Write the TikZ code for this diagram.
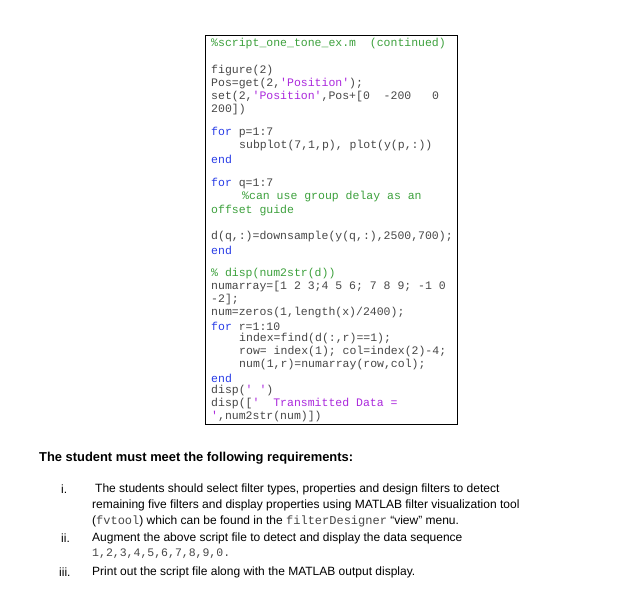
\documentclass[tikz,border=0pt]{standalone}
\usepackage{fontspec}
\setmainfont{Liberation Sans}
\newfontfamily\cm{Liberation Mono}
\definecolor{cgray}{RGB}{70,70,70}
\definecolor{kw}{RGB}{40,60,230}
\definecolor{st}{RGB}{170,40,220}
\definecolor{cmt}{RGB}{60,160,60}
\begin{document}
\begin{tikzpicture}[x=1pt,y=-1pt,
  code/.style={anchor=west,inner sep=0pt,font=\cm\fontsize{11.5}{13}\selectfont,text=cgray},
  body/.style={anchor=west,inner sep=0pt,font=\fontsize{12}{15}\selectfont,text=black}]
\useasboundingbox (0,0) rectangle (638,614);
\draw[line width=1pt] (205,35) rectangle (457,424);
\newcommand\cl[3]{\node[code] at (#1,#2) {#3};}
\cl{211}{44}{\textcolor{cmt}{\%script\_one\_tone\_ex.m~~(continued)}}
\cl{211}{71}{figure(2)}
\cl{211}{84}{Pos=get(2,\textcolor{st}{'Position'});}
\cl{211}{97}{set(2,\textcolor{st}{'Position'},Pos+[0~~-200~~~0}
\cl{211}{110}{200])}
\cl{211}{133}{\textcolor{kw}{for} p=1:7}
\cl{239}{146}{subplot(7,1,p), plot(y(p,:))}
\cl{211}{159}{\textcolor{kw}{end}}
\cl{211}{184}{\textcolor{kw}{for} q=1:7}
\cl{242}{197}{\textcolor{cmt}{\%can use group delay as an}}
\cl{211}{211}{\textcolor{cmt}{offset guide}}
\cl{211}{237}{d(q,:)=downsample(y(q,:),2500,700);}
\cl{211}{250}{\textcolor{kw}{end}}
\cl{211}{274}{\textcolor{cmt}{\% disp(num2str(d))}}
\cl{211}{287}{numarray=[1 2 3;4 5 6; 7 8 9; -1 0}
\cl{211}{300}{-2];}
\cl{211}{313}{num=zeros(1,length(x)/2400);}
\cl{211}{326}{\textcolor{kw}{for} r=1:10}
\cl{239}{339}{index=find(d(:,r)==1);}
\cl{239}{352}{row= index(1); col=index(2)-4;}
\cl{239}{365}{num(1,r)=numarray(row,col);}
\cl{211}{378}{\textcolor{kw}{end}}
\cl{211}{391}{disp(\textcolor{st}{' '})}
\cl{211}{404}{disp([\textcolor{st}{'~~Transmitted Data =}}
\cl{211}{417}{\textcolor{st}{'},num2str(num)])}
\node[body,font=\bfseries\fontsize{12.9}{15}\selectfont] at (39,458) {The student must meet the following requirements:};
\node[body] at (61,489) {i.};
\node[body] at (95,489) {The students should select filter types, properties and design filters to detect};
\node[body] at (92,505) {remaining five filters and display properties using MATLAB filter visualization tool};
\node[body] at (92,521) {(\textcolor{cgray}{\cm fvtool}) which can be found in the \textcolor{cgray}{\cm filterDesigner} “view” menu.};
\node[body] at (61,538) {ii.};
\node[body] at (92,538) {Augment the above script file to detect and display the data sequence};
\node[body,font=\cm\fontsize{11.5}{13}\selectfont,text=cgray] at (92,554) {1,2,3,4,5,6,7,8,9,0.};
\node[body] at (59,572) {iii.};
\node[body] at (92,572) {Print out the script file along with the MATLAB output display.};
\end{tikzpicture}
\end{document}
